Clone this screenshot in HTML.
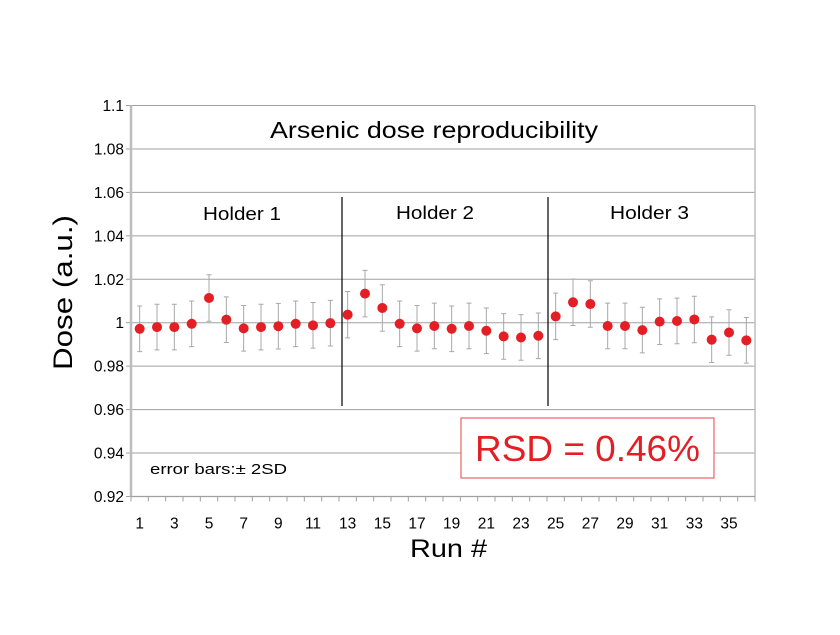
<!DOCTYPE html>
<html><head><meta charset="utf-8"><style>
body{margin:0;background:#fff}
svg text{font-family:"Liberation Sans",Arial,sans-serif}
</style></head><body>
<svg width="840" height="630" viewBox="0 0 840 630">
<g id="grid"></g>
<g id="axes"></g>
<g id="marks"></g>
<text x="270" y="138" font-size="23" textLength="328" lengthAdjust="spacingAndGlyphs">Arsenic dose reproducibility</text>
<line x1="342" y1="197" x2="342" y2="406" stroke="#000" stroke-width="1.2"/>
<line x1="548" y1="197" x2="548" y2="406" stroke="#000" stroke-width="1.2"/>
<text x="203" y="220" font-size="18" textLength="78" lengthAdjust="spacingAndGlyphs">Holder 1</text>
<text x="396" y="219" font-size="18" textLength="78" lengthAdjust="spacingAndGlyphs">Holder 2</text>
<text x="610" y="219" font-size="18" textLength="79" lengthAdjust="spacingAndGlyphs">Holder 3</text>
<text x="150" y="474" font-size="14.5" textLength="137" lengthAdjust="spacingAndGlyphs">error bars:± 2SD</text>
<rect x="461" y="418" width="253" height="60" fill="#fff" stroke="#e8434a" stroke-width="1"/>
<text x="475" y="461" font-size="36" fill="#e31e24" textLength="225" lengthAdjust="spacingAndGlyphs">RSD = 0.46%</text>
<text x="410" y="557" font-size="25" textLength="77" lengthAdjust="spacingAndGlyphs">Run #</text>
<text transform="translate(72,370) rotate(-90)" font-size="27" textLength="155" lengthAdjust="spacingAndGlyphs">Dose  (a.u.)</text>
</svg>
<script>
const runs=[1,2,3,4,5,6,7,8,9,10,11,12,13,14,15,16,17,18,19,20,21,22,23,24,25,26,27,28,29,30,31,32,33,34,35,36];
const dose=[0.9972,0.998,0.998,0.9995,1.0114,1.0014,0.9974,0.998,0.9984,0.9995,0.9988,0.9998,1.0037,1.0134,1.0068,0.9995,0.9974,0.9985,0.9972,0.9985,0.9963,0.9937,0.9932,0.994,1.0029,1.0094,1.0086,0.9985,0.9985,0.9966,1.0005,1.0008,1.0015,0.9922,0.9955,0.9919];
const err=[0.0105,0.0105,0.0105,0.0105,0.0107,0.0105,0.0105,0.0105,0.0105,0.0105,0.0105,0.0105,0.0107,0.0107,0.0107,0.0105,0.0105,0.0105,0.0105,0.0105,0.0105,0.0105,0.0105,0.0105,0.0107,0.0107,0.0107,0.0105,0.0105,0.0105,0.0105,0.0105,0.0107,0.0105,0.0105,0.0105];
const yTicks=[0.92,0.94,0.96,0.98,1,1.02,1.04,1.06,1.08,1.1];
const yTickLabels=["0.92","0.94","0.96","0.98","1","1.02","1.04","1.06","1.08","1.1"];
const xLabels=[1,3,5,7,9,11,13,15,17,19,21,23,25,27,29,31,33,35];
const L=131,R=755,T=105.5,B=496.5,ymin=0.92,ymax=1.1;
const bw=(R-L)/runs.length;
const X=r=>L+(r-0.5)*bw;
const Y=v=>B-(v-ymin)/(ymax-ymin)*(B-T);
const NS="http://www.w3.org/2000/svg";
function mk(t,a,p){const e=document.createElementNS(NS,t);for(const k in a)e.setAttribute(k,a[k]);p.appendChild(e);return e;}
const grid=document.getElementById('grid'),axes=document.getElementById('axes'),marks=document.getElementById('marks');
yTicks.forEach((v,i)=>{
 const g=mk('line',{x1:L,x2:R,y1:Y(v),y2:Y(v),stroke:'#a0a0a0','stroke-width':1},grid);
 
 
 const t=mk('line',{x1:L-5,x2:L,y1:Y(v),y2:Y(v),stroke:'#a0a0a0'},axes);
 
 
 const l=mk('text',{x:L-7,y:Y(v)+5.5,'text-anchor':'end','font-size':15.5},axes);
 l.textContent=yTickLabels[i];
 
 
});
const la=mk('line',{x1:L,x2:L,y1:T,y2:B,stroke:'#bdbdbd','stroke-width':2.5},axes);


const ra=mk('line',{x1:R,x2:R,y1:T,y2:B,stroke:'#bdbdbd','stroke-width':1.5},axes);


const ba=mk('line',{x1:L,x2:R,y1:B,y2:B,stroke:'#a0a0a0','stroke-width':1.2},axes);


for(let i=0;i<=runs.length;i++){
 const t=mk('line',{x1:L+i*bw,x2:L+i*bw,y1:B,y2:B+5,stroke:'#a0a0a0'},axes);
 
 
}
xLabels.forEach(r=>{
 const l=mk('text',{x:X(r),y:B+32,'text-anchor':'middle','font-size':15.5},axes);
 l.textContent=r;
 
 
});
runs.forEach((r,i)=>{
 const x=X(r),y1=Y(dose[i]+err[i]),y2=Y(dose[i]-err[i]);
 const e=mk('path',{d:`M${x},${y1}V${y2}M${x-2.5},${y1}H${x+2.5}M${x-2.5},${y2}H${x+2.5}`,stroke:'#a8a8a8','stroke-width':1,fill:'none'},marks);
 
 
});
runs.forEach((r,i)=>{
 const c=mk('circle',{cx:X(r),cy:Y(dose[i]),r:5,fill:'#e31e24'},marks);
 
 
});
</script>
</body></html>
